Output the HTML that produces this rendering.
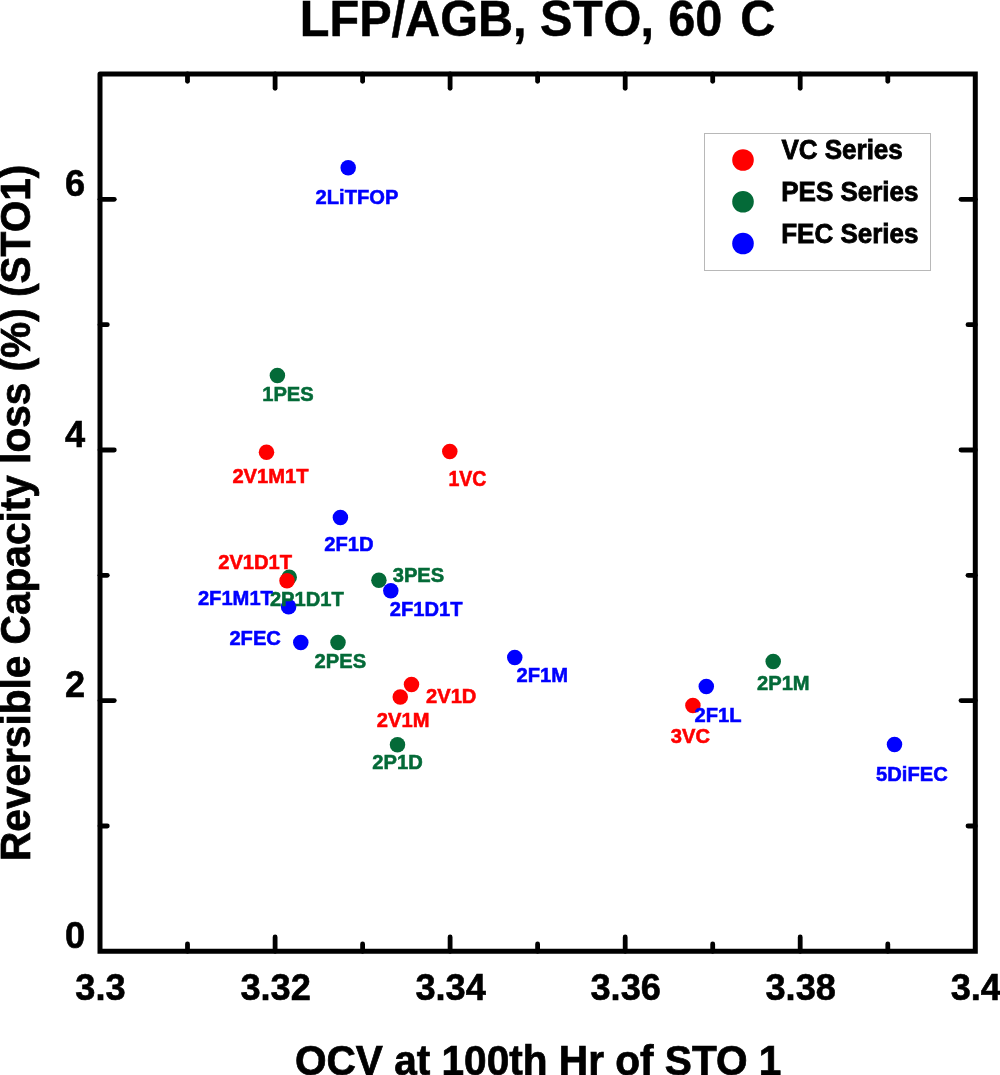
<!DOCTYPE html>
<html lang="en"><head><meta charset="utf-8"><title>LFP/AGB, STO, 60 C</title>
<style>html,body{margin:0;padding:0;background:#fff;overflow:hidden}svg{display:block}text{font-family:"Liberation Sans",sans-serif;font-weight:bold}</style></head>
<body>
<svg width="1000" height="1075" viewBox="0 0 1000 1075">
<rect x="0" y="0" width="1000" height="1075" fill="#ffffff"/>
<text transform="translate(299.8 35.7) scale(1 1.042)" font-size="48.6" stroke-width="0.5" stroke="#000" fill="#000">LFP/AGB, S<tspan dx="0.5">T</tspan><tspan dx="0.7">O</tspan><tspan dx="-0.8">,</tspan> <tspan dx="0.8">60</tspan><tspan dx="18.0">C</tspan></text>
<text transform="translate(294.9 1074.7) scale(1 1.042)" font-size="40.6" stroke-width="0.7" stroke="#000" fill="#000">OCV at 100th Hr of STO 1</text>
<text transform="translate(29.5 861.0) rotate(-90) scale(1 1.042)" font-size="40.6" stroke-width="0.7" stroke="#000" fill="#000">Reversible Capacity loss (%) (STO1)</text>
<g fill="none" stroke="#000" stroke-width="5.0" stroke-linecap="round" stroke-linejoin="miter">
<path d="M100.0 74.0 H975.3 V951.3 H100.0 V74.0"/>
</g>
<g fill="none" stroke="#000" stroke-width="4.8" stroke-linecap="round">
<line x1="187.5" y1="951.3" x2="187.5" y2="944.0"/>
<line x1="187.5" y1="74.0" x2="187.5" y2="81.3"/>
<line x1="275.1" y1="951.3" x2="275.1" y2="937.0"/>
<line x1="275.1" y1="74.0" x2="275.1" y2="88.3"/>
<line x1="362.6" y1="951.3" x2="362.6" y2="944.0"/>
<line x1="362.6" y1="74.0" x2="362.6" y2="81.3"/>
<line x1="450.1" y1="951.3" x2="450.1" y2="937.0"/>
<line x1="450.1" y1="74.0" x2="450.1" y2="88.3"/>
<line x1="537.6" y1="951.3" x2="537.6" y2="944.0"/>
<line x1="537.6" y1="74.0" x2="537.6" y2="81.3"/>
<line x1="625.2" y1="951.3" x2="625.2" y2="937.0"/>
<line x1="625.2" y1="74.0" x2="625.2" y2="88.3"/>
<line x1="712.7" y1="951.3" x2="712.7" y2="944.0"/>
<line x1="712.7" y1="74.0" x2="712.7" y2="81.3"/>
<line x1="800.2" y1="951.3" x2="800.2" y2="937.0"/>
<line x1="800.2" y1="74.0" x2="800.2" y2="88.3"/>
<line x1="887.8" y1="951.3" x2="887.8" y2="944.0"/>
<line x1="887.8" y1="74.0" x2="887.8" y2="81.3"/>
<line x1="100.0" y1="826.0" x2="107.3" y2="826.0"/>
<line x1="975.3" y1="826.0" x2="968.0" y2="826.0"/>
<line x1="100.0" y1="700.6" x2="114.3" y2="700.6"/>
<line x1="975.3" y1="700.6" x2="961.0" y2="700.6"/>
<line x1="100.0" y1="575.3" x2="107.3" y2="575.3"/>
<line x1="975.3" y1="575.3" x2="968.0" y2="575.3"/>
<line x1="100.0" y1="450.0" x2="114.3" y2="450.0"/>
<line x1="975.3" y1="450.0" x2="961.0" y2="450.0"/>
<line x1="100.0" y1="324.7" x2="107.3" y2="324.7"/>
<line x1="975.3" y1="324.7" x2="968.0" y2="324.7"/>
<line x1="100.0" y1="199.3" x2="114.3" y2="199.3"/>
<line x1="975.3" y1="199.3" x2="961.0" y2="199.3"/>
</g>
<g font-size="36.2" fill="#000" stroke="#000" stroke-width="0.6">
<text transform="translate(100.5 999.6) scale(1 1.042)" text-anchor="middle">3.3</text>
<text transform="translate(275.6 999.6) scale(1 1.042)" text-anchor="middle">3.32</text>
<text transform="translate(450.6 999.6) scale(1 1.042)" text-anchor="middle">3.34</text>
<text transform="translate(625.7 999.6) scale(1 1.042)" text-anchor="middle">3.36</text>
<text transform="translate(800.7 999.6) scale(1 1.042)" text-anchor="middle">3.38</text>
<text transform="translate(975.8 999.6) scale(1 1.042)" text-anchor="middle">3.4</text>
<text transform="translate(85.1 948.1) scale(1 1.042)" text-anchor="end">0</text>
<text transform="translate(85.1 697.4) scale(1 1.042)" text-anchor="end">2</text>
<text transform="translate(85.1 446.8) scale(1 1.042)" text-anchor="end">4</text>
<text transform="translate(85.1 196.1) scale(1 1.042)" text-anchor="end">6</text>
</g>
<rect x="704.5" y="133.5" width="226" height="137" fill="#fff" stroke="#b8b8b8" stroke-width="1"/>
<circle cx="743" cy="160" r="10.8" fill="#ff0000"/>
<text transform="translate(781.4 159.2) scale(1 1.042)" font-size="26.0" stroke-width="0.8" stroke="#000" fill="#000">VC Series</text>
<circle cx="743" cy="201.75" r="10.8" fill="#046a38"/>
<text transform="translate(781.2 200.9) scale(1 1.042)" font-size="26.0" stroke-width="0.8" stroke="#000" fill="#000">PES Series</text>
<circle cx="743" cy="243.5" r="10.8" fill="#0000ff"/>
<text transform="translate(781.2 242.7) scale(1 1.042)" font-size="26.0" stroke-width="0.8" stroke="#000" fill="#000">FEC Series</text>
<g fill="#046a38">
<circle cx="277.4" cy="375.5" r="7.75"/>
<circle cx="289.2" cy="577.2" r="7.75"/>
<circle cx="378.9" cy="580.2" r="7.75"/>
<circle cx="338" cy="642.4" r="7.75"/>
<circle cx="397.5" cy="744.75" r="7.75"/>
<circle cx="773.2" cy="661.5" r="7.75"/>
</g>
<g fill="#ff0000">
<circle cx="266.5" cy="452.2" r="7.75"/>
<circle cx="449.8" cy="451.5" r="7.75"/>
<circle cx="287" cy="580.8" r="7.75"/>
<circle cx="411.5" cy="684.4" r="7.75"/>
<circle cx="400.25" cy="696.9" r="7.75"/>
<circle cx="692.9" cy="705.5" r="7.75"/>
</g>
<g fill="#0000ff">
<circle cx="348.2" cy="167.75" r="7.75"/>
<circle cx="340.4" cy="517.6" r="7.75"/>
<circle cx="288.6" cy="606.8" r="7.75"/>
<circle cx="300.8" cy="642.6" r="7.75"/>
<circle cx="390.8" cy="590.7" r="7.75"/>
<circle cx="514.75" cy="657.5" r="7.75"/>
<circle cx="706.3" cy="686.5" r="7.75"/>
<circle cx="894.5" cy="744.4" r="7.75"/>
</g>
<g fill="#046a38" stroke="#046a38" stroke-width="0.55" font-size="20.15">
<text transform="translate(262.2 401.1) scale(1 1.000)">1PES</text>
<text transform="translate(269.9 606.3) scale(1 1.000)">2P1D1T</text>
<text transform="translate(392.7 582.4) scale(1 1.000)">3PES</text>
<text transform="translate(314.6 668.3) scale(1 1.000)">2PES</text>
<text transform="translate(372.3 768.6) scale(1 1.000)">2P1D</text>
<text transform="translate(757.0 690.3) scale(1 1.000)">2P1M</text>
</g>
<g fill="#ff0000" stroke="#ff0000" stroke-width="0.55" font-size="20.15">
<text transform="translate(232.4 483.1) scale(1 1.000)">2V1M1T</text>
<text transform="translate(448.4 485.7) scale(0.97 1.070)">1VC</text>
<text transform="translate(218.2 569.4) scale(1 1.000)">2V1D1T</text>
<text transform="translate(426.0 702.6) scale(1 1.000)">2V1D</text>
<text transform="translate(376.8 726.9) scale(1 1.000)">2V1M</text>
<text transform="translate(670.8 743.1) scale(1 1.000)">3VC</text>
</g>
<g fill="#0000ff" stroke="#0000ff" stroke-width="0.55" font-size="20.15">
<text transform="translate(315.6 204.0) scale(1 1.000)">2LiTFOP</text>
<text transform="translate(324.2 550.7) scale(1 1.000)">2F1D</text>
<text transform="translate(197.9 604.9) scale(1 1.000)">2F1M1T</text>
<text transform="translate(229.4 645.1) scale(1 1.000)">2FEC</text>
<text transform="translate(389.8 615.7) scale(1 1.000)">2F1D1T</text>
<text transform="translate(516.5 681.9) scale(1 1.000)">2F1M</text>
<text transform="translate(694.6 721.9) scale(1 1.000)">2F1L</text>
<text transform="translate(876.1 780.5) scale(1 1.000)">5DiFEC</text>
</g>
</svg>
</body></html>
